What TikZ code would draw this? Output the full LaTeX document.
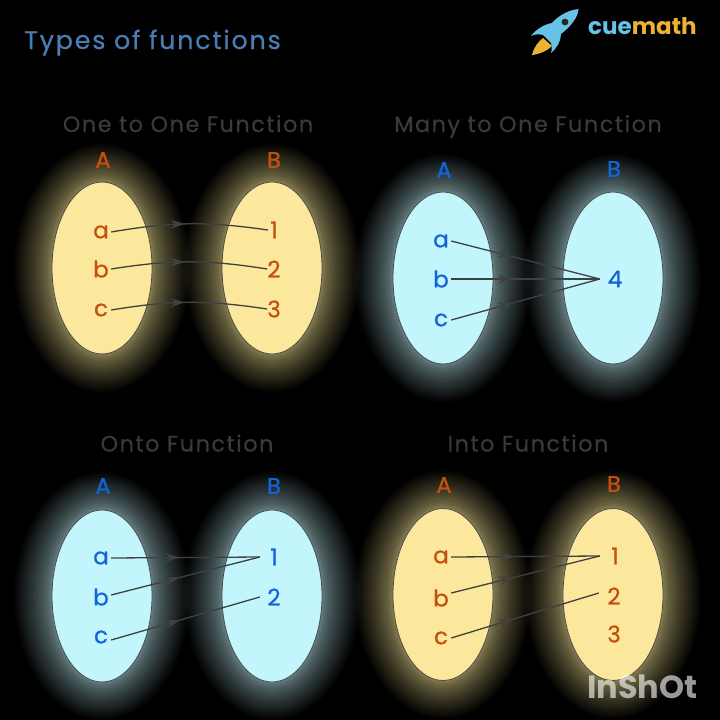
\documentclass[tikz,border=0pt]{standalone}
\usepackage{fontspec}
\setmainfont{Poppins}
\newfontfamily\spaced[LetterSpace=7,FakeBold=0.5]{Poppins}
\newfontfamily\labelfont[FakeBold=0.7]{Poppins}
\newfontfamily\setfont[FakeBold=1.1]{Poppins}
\newfontfamily\logofont{Poppins}
\usetikzlibrary{decorations.markings,arrows.meta,calc}
\definecolor{warmfill}{HTML}{FBE89C}
\definecolor{warmglow}{HTML}{FFF0A8}
\definecolor{warmtext}{HTML}{C4500F}
\definecolor{coolfill}{HTML}{C2F6FC}
\definecolor{coolglow}{HTML}{C8F4F8}
\definecolor{cooltext}{HTML}{1464D8}
\definecolor{titlegray}{HTML}{3A3A3A}
\definecolor{linkgray}{HTML}{404040}
\definecolor{headblue}{HTML}{4A7DB5}
\definecolor{logoblue}{HTML}{67C3E6}
\definecolor{logoyellow}{HTML}{EDB233}
\tikzset{
  x=1pt,y=-1pt,
  heading/.style={text=titlegray,font=\spaced\fontsize{22.3}{24}\selectfont,inner sep=0pt,anchor=base},
  setlabel/.style={font=\setfont\fontsize{22.5}{24}\selectfont,inner sep=1pt},
  item/.style={font=\labelfont\fontsize{23}{24}\selectfont,inner sep=0pt,minimum width=20pt},
  link/.style={draw=linkgray,line width=1.3pt,postaction={decorate},
    decoration={markings,mark=at position #1 with {\arrow[linkgray]{Stealth[length=14pt,width=9pt]}}}},
  link/.default=0.45,
  oval/.style={draw=black!70!white,line width=.8pt}
}
\newcommand{\glowoval}[4]{%
  \foreach \i in {40,39,...,1}{
    \pgfmathsetmacro{\r}{38*(\i/40)^2.1}
    \fill[#4,fill opacity=.024] (#1,#2) ellipse [x radius={#3+\r},y radius={86+\r}];
  }
}
\begin{document}
\begin{tikzpicture}
\useasboundingbox (0,0) rectangle (720,720);
\fill[black] (0,0) rectangle (720,720);
% glows
\begin{scope}
\clip (0,0) rectangle (720,720);
\glowoval{102}{268}{50}{warmglow}
\glowoval{272}{268}{50}{warmglow}
\glowoval{443}{278}{50}{coolglow}
\glowoval{613}{278}{50}{coolglow}
\glowoval{102}{596}{50}{coolglow}
\glowoval{272}{596}{50}{coolglow}
\glowoval{443}{594.5}{50}{warmglow}
\glowoval{613}{594.5}{50}{warmglow}
\end{scope}
% ovals
\fill[warmfill,oval] (102,268) ellipse [x radius=50,y radius=86];
\fill[warmfill,oval] (272,268) ellipse [x radius=50,y radius=86];
\fill[coolfill,oval] (443,278) ellipse [x radius=50,y radius=86];
\fill[coolfill,oval] (613,278) ellipse [x radius=50,y radius=86];
\fill[coolfill,oval] (102,596) ellipse [x radius=50,y radius=86];
\fill[coolfill,oval] (272,596) ellipse [x radius=50,y radius=86];
\fill[warmfill,oval] (443,594.5) ellipse [x radius=50,y radius=86];
\fill[warmfill,oval] (613,594.5) ellipse [x radius=50,y radius=86];
% header
\node[anchor=base west,inner sep=0pt,text=headblue,font=\spaced\fontsize{25.4}{27}\selectfont] (htitle) at (24,49) {Types of functions};
\node[heading] (t1) at (188,132) {One to One Function};
\node[heading] (t2) at (528,132) {Many to One Function};
\node[heading] (t3) at (187,451.5) {Onto Function};
\node[heading] (t4) at (528,451.5) {Into Function};
% set labels
\begin{scope}[every node/.append style={setlabel}]
\node[text=warmtext] (A1) at (103,160) {A};
\node[text=warmtext] (B1) at (274,160) {B};
\node[text=cooltext] (A2) at (444,170) {A};
\node[text=cooltext] (B2) at (614,169) {B};
\node[text=cooltext] (A3) at (103,486) {A};
\node[text=cooltext] (B3) at (274,486) {B};
\node[text=warmtext] (A4) at (444,485) {A};
\node[text=warmtext] (B4) at (614,484) {B};
\end{scope}
% items
\begin{scope}[every node/.append style={item,text=warmtext}]
\node (a1) at (101,232) {a};
\node (b1) at (101,269) {b};
\node (c1) at (101,310) {c};
\node[minimum width=12pt] (n11) at (274,230) {1};
\node[minimum width=12pt] (n12) at (274,269) {2};
\node[minimum width=12pt] (n13) at (274,309) {3};
\node (a4) at (441,557) {a};
\node (b4) at (441,598) {b};
\node (c4) at (441,638) {c};
\node[minimum width=30pt] (n41) at (615,556) {1};
\node[minimum width=30pt] (n42) at (614,596) {2};
\node[minimum width=30pt] (n43) at (614,634) {3};
\end{scope}
\begin{scope}[every node/.append style={item,text=cooltext}]
\node (a2) at (441,241) {a};
\node (b2) at (441,279) {b};
\node (c2) at (441,320) {c};
\node[minimum width=30pt] (n24) at (615,279) {4};
\node (a3) at (101,558) {a};
\node (b3) at (101,597) {b};
\node (c3) at (101,637) {c};
\node[minimum width=28pt] (n31) at (274,557) {1};
\node[minimum width=28pt] (n32) at (274,597) {2};
\end{scope}
% connectors
\draw[link=.47] (a1.east) to[bend left=9] (n11.west);
\draw[link=.47] (b1.east) to[bend left=9] (n12.west);
\draw[link=.47] (c1.east) to[bend left=9] (n13.west);
\draw[link=.41] (a2.east) -- (n24.west);
\draw[link=.41] (b2.east) -- (n24.west);
\draw[link=.41] (c2.east) -- (n24.west);
\draw[link=.46] (a3.east) -- (n31.west);
\draw[link=.46] ($(b3.east)+(0,-2)$) -- (n31.west);
\draw[link=.46] ($(c3.east)+(0,3)$) -- (n32.west);
\draw[link=.42] (a4.east) -- (n41.west);
\draw[link=.42] ($(b4.east)+(0,-5)$) -- (n41.west);
\draw[link=.42] (c4.east) -- ($(n42.west)+(0,-3)$);
% logo
\fill[logoyellow] (532,55) .. controls (534,47) and (538,42) .. (543,38) -- (552,46) .. controls (547,51) and (540,54) .. (532,55) -- cycle;
\fill[logoblue] (578.5,9) .. controls (570,10) and (560,14) .. (552,23)
  .. controls (546,24) and (537,28) .. (531,36) .. controls (535,34) and (539,34) .. (543,35)
  -- (551,43) .. controls (552,46) and (552,50) .. (551,53) .. controls (557,48) and (561,41) .. (561,34)
  .. controls (570,27) and (578,18) .. (578.5,9) -- cycle;
\fill[black!85] (565,22) circle [radius=3.4];
\node[anchor=west,inner sep=0pt,font=\logofont\fontsize{23}{24}\selectfont\bfseries] (logo) at (588,26.5) {\textcolor{logoblue}{cue}\textcolor{logoyellow}{math}};
% watermark
\node[anchor=base west,inner sep=0pt,text=white,text opacity=.6,font=\fontsize{32}{34}\selectfont\bfseries] (wm) at (587,698) {InShOt};
\end{tikzpicture}
\end{document}
